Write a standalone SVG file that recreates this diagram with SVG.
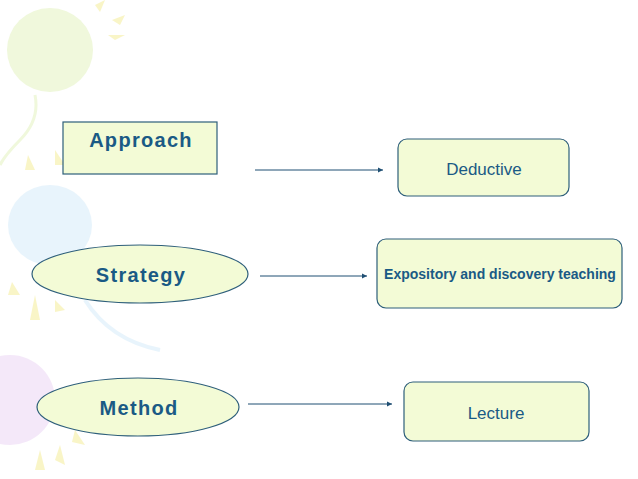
<svg xmlns="http://www.w3.org/2000/svg" width="638" height="479" viewBox="0 0 638 479">
<style>
.n{fill:#f3fbd6;stroke:#2e5f7a;stroke-width:1.2}
.t{font-family:"Liberation Sans",Arial,sans-serif;fill:#1a5a85;text-anchor:middle}
.b{font-weight:bold;font-size:20px;letter-spacing:1.3px}
.c{stroke:#1f4f73;stroke-width:1;fill:none;marker-end:url(#a)}
</style>
<defs><marker id="a" markerWidth="6" markerHeight="6" refX="5" refY="3" orient="auto"><path d="M0,0.5 L5,3 L0,5.5z" fill="#1f4f73"/></marker></defs>
<rect width="638" height="479" fill="#fff"/>
<g id="bg" opacity="0.55">
<ellipse cx="50" cy="50" rx="43" ry="42" fill="#e4f3c0"/>
<path d="M35,95 Q40,120 20,140 Q5,155 0,165" stroke="#e4f3c0" stroke-width="3" fill="none"/>
<ellipse cx="50" cy="225" rx="42" ry="40" fill="#d6ecfa"/>
<path d="M85,300 Q110,340 160,350" stroke="#d6ecfa" stroke-width="4" fill="none"/>
<ellipse cx="10" cy="400" rx="45" ry="45" fill="#ecd6f5"/>
<path d="M95,5 L105,0 L100,12z M112,20 L125,15 L120,25z M108,35 L125,35 L115,40z M28,155 L35,170 L25,170z M55,150 L65,165 L55,165z M12,282 L20,295 L8,295z M35,295 L40,320 L30,320z M55,300 L65,310 L55,312z M40,450 L45,470 L35,470z M60,445 L65,465 L55,460z M75,430 L85,445 L72,442z" fill="#f5ee9a"/>
</g>
<g id="conn">
<line class="c" x1="255" y1="170" x2="383" y2="170"/>
<line class="c" x1="260" y1="276" x2="367" y2="276"/>
<line class="c" x1="248" y1="404" x2="392" y2="404"/>
</g>
<g id="approach"><rect class="n" x="63" y="122" width="154" height="52"/><text class="t b" x="141" y="147">Approach</text></g>
<g id="strategy"><ellipse class="n" cx="140" cy="274" rx="108" ry="29"/><text class="t b" x="141" y="282">Strategy</text></g>
<g id="method"><ellipse class="n" cx="138" cy="407" rx="101" ry="29"/><text class="t b" x="139" y="415">Method</text></g>
<g id="deductive"><rect class="n" x="398" y="139" width="171" height="57" rx="9"/><text class="t" x="484" y="175" font-size="17">Deductive</text></g>
<g id="expository"><rect class="n" x="377" y="239" width="245" height="69" rx="9"/><text class="t" x="500" y="279" font-size="14" font-weight="bold">Expository and discovery teaching</text></g>
<g id="lecture"><rect class="n" x="404" y="382" width="185" height="59" rx="9"/><text class="t" x="496" y="419" font-size="17">Lecture</text></g>
</svg>
